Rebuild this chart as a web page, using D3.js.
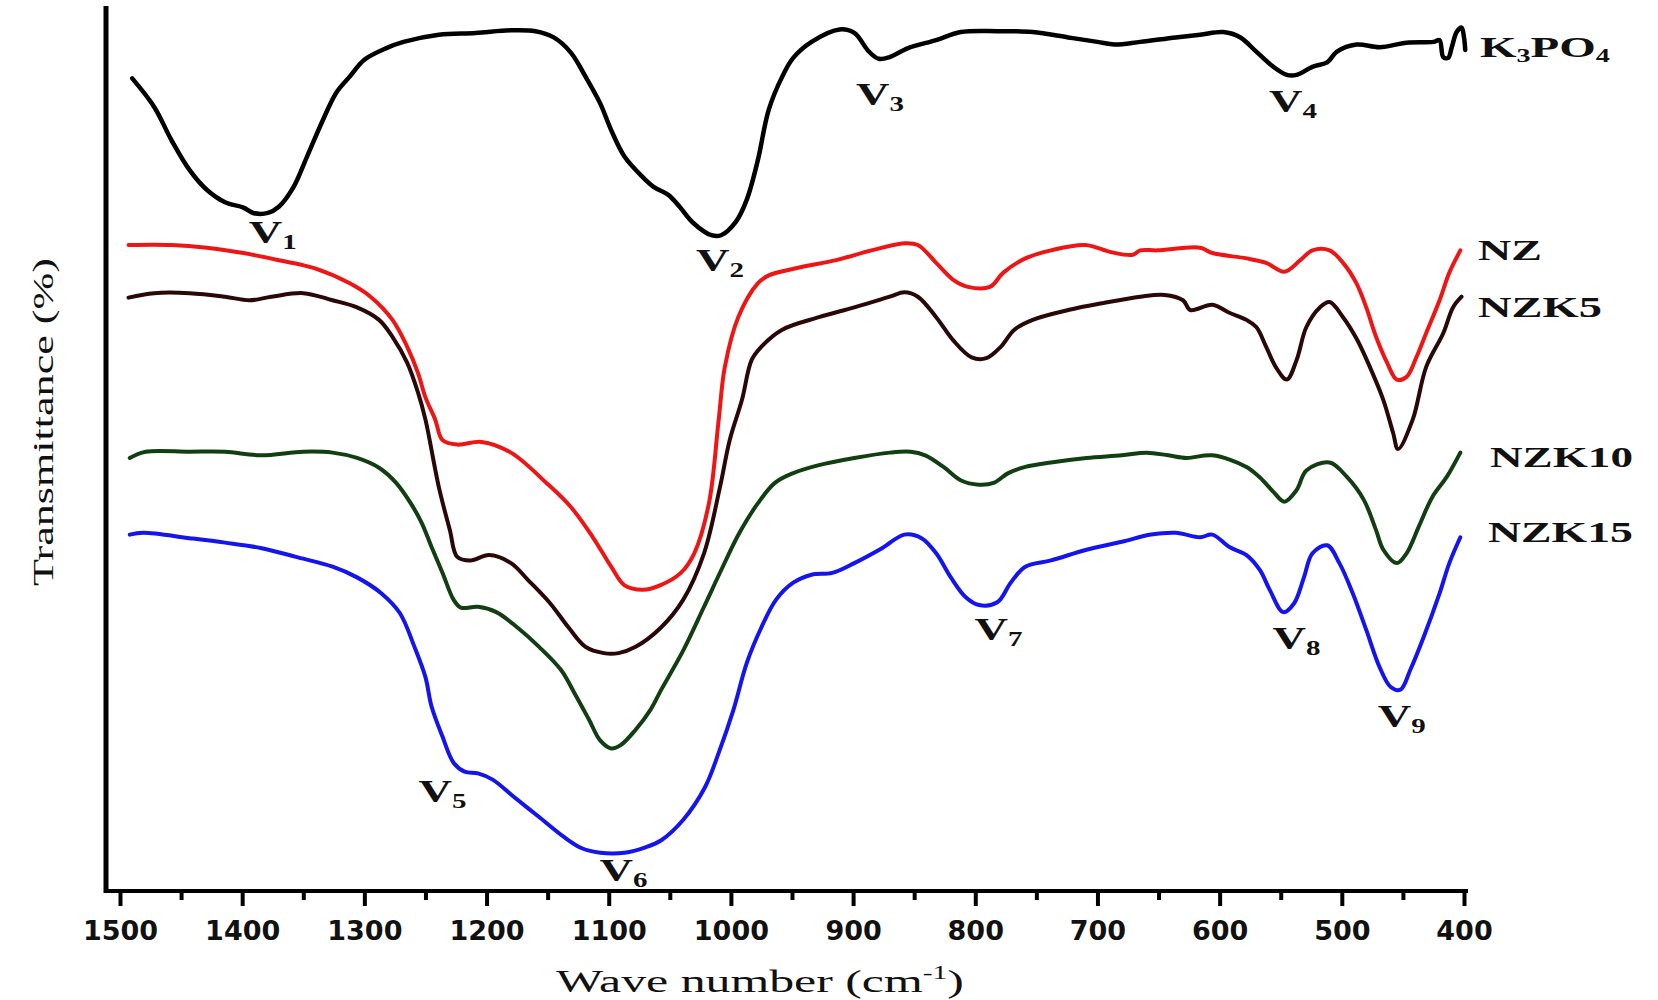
<!DOCTYPE html>
<html>
<head>
<meta charset="utf-8">
<script src="https://cdn.jsdelivr.net/npm/d3@7"></script>
<style>
body { margin:0; background:#fff; }
</style>
</head>
<body>
<div id="chart-area"></div>
<script>

// spectra: [wave number (cm-1), transmittance (arb. %)]
const k3po4 = [[1490,91.2],[1472,88.0],[1458,84.3],[1443,80.9],[1429,78.7],[1414,77.3],[1399,76.7],[1391,76.1],[1379,76.1],[1370,76.8],[1358,79.0],[1347,82.4],[1335,86.2],[1323,89.6],[1312,91.4],[1300,93.3],[1282,94.6],[1268,95.3],[1239,96.1],[1209,96.3],[1180,96.6],[1160,96.5],[1145,95.8],[1131,94.1],[1119,91.4],[1107,88.4],[1098,85.4],[1087,82.4],[1072,80.1],[1063,79.0],[1051,78.1],[1042,76.8],[1031,75.0],[1016,73.6],[1008,73.6],[996,75.1],[987,77.6],[978,82.0],[969,87.7],[958,91.4],[949,93.5],[934,95.3],[911,96.7],[899,96.3],[887,94.2],[879,93.4],[870,93.6],[855,94.6],[832,95.5],[812,96.4],[782,96.5],[753,96.4],[724,95.8],[700,95.3],[686,95.0],[665,95.3],[636,95.8],[616,96.1],[597,96.4],[583,95.8],[570,94.2],[556,92.5],[545,91.6],[537,91.6],[524,92.5],[512,93.0],[504,94.2],[488,95.0],[469,94.7],[447,95.2],[425,95.3],[420,95.5],[417,93.6],[413,93.5],[410,94.7],[406,96.4],[402,96.9],[400,95.8],[399,94.4]]

const nz = [[1493,72.5],[1458,72.5],[1429,72.2],[1399,71.6],[1370,70.8],[1341,69.9],[1312,68.2],[1295,66.7],[1277,64.1],[1265,61.1],[1256,58.1],[1250,55.4],[1242,52.9],[1236,50.6],[1224,50.1],[1204,50.4],[1180,49.2],[1151,45.8],[1131,43.1],[1113,39.7],[1098,36.4],[1087,34.3],[1072,33.8],[1058,34.3],[1041,35.7],[1030,37.9],[1018,43.5],[1010,52.9],[1005,58.8],[994,64.4],[978,68.2],[969,69.1],[943,70.0],[914,70.8],[885,71.9],[858,72.7],[847,72.5],[832,70.5],[818,68.6],[806,67.8],[788,67.8],[777,69.4],[759,71.0],[738,71.9],[710,72.5],[689,71.7],[671,71.4],[665,71.9],[651,71.9],[616,72.2],[606,71.6],[578,71.0],[562,70.5],[547,69.5],[534,70.8],[524,71.9],[510,71.9],[499,70.5],[488,68.2],[480,65.5],[472,62.2],[463,59.3],[455,57.4],[447,57.7],[439,59.9],[431,62.6],[420,66.3],[412,69.4],[403,71.9]]

const nzk5 = [[1493,66.6],[1472,67.1],[1443,67.1],[1414,66.7],[1394,66.3],[1376,66.7],[1350,67.1],[1326,66.3],[1306,65.5],[1288,64.1],[1277,62.2],[1265,59.3],[1256,55.9],[1250,52.9],[1239,45.3],[1230,40.5],[1224,37.5],[1213,37.1],[1198,37.7],[1180,36.8],[1166,34.9],[1148,32.3],[1133,29.6],[1119,27.4],[1104,26.7],[1092,26.7],[1078,27.4],[1057,29.6],[1039,32.7],[1022,37.9],[1009,45.3],[1001,50.6],[991,55.1],[983,59.6],[975,61.1],[958,63.0],[928,64.4],[899,65.5],[870,66.7],[858,67.2],[847,66.7],[832,64.4],[818,61.8],[803,59.9],[791,59.8],[779,61.1],[768,63.0],[753,64.1],[724,65.2],[695,66.0],[665,66.7],[645,66.9],[630,66.3],[624,65.2],[606,65.8],[592,64.9],[578,64.1],[570,63.3],[562,61.1],[554,58.8],[545,57.4],[537,59.6],[529,63.3],[518,65.5],[510,66.1],[499,64.4],[488,62.0],[477,58.8],[466,55.1],[458,51.4],[454,49.6],[442,52.9],[431,58.8],[417,62.6],[409,65.5],[402,66.7]]

const nzk10 = [[1492,48.6],[1479,49.3],[1443,49.3],[1414,49.3],[1385,48.9],[1350,49.3],[1326,49.2],[1306,48.6],[1288,47.5],[1274,45.8],[1262,43.5],[1253,41.3],[1245,38.6],[1236,35.7],[1227,32.7],[1221,31.8],[1207,31.9],[1192,31.3],[1175,29.6],[1157,27.4],[1139,24.8],[1128,22.2],[1116,19.2],[1107,16.9],[1098,16.0],[1090,16.4],[1078,18.1],[1066,20.3],[1057,22.6],[1039,27.0],[1022,31.9],[1008,36.0],[993,40.2],[978,43.5],[964,45.8],[949,46.9],[928,47.8],[899,48.6],[870,49.2],[853,49.3],[841,48.9],[826,47.6],[812,46.1],[797,45.6],[785,45.8],[773,46.9],[759,47.6],[738,48.1],[709,48.6],[680,48.9],[660,49.2],[642,48.9],[627,48.6],[606,48.9],[578,47.6],[567,46.4],[556,44.8],[547,43.7],[537,45.0],[529,47.2],[510,48.1],[496,46.5],[482,43.9],[472,40.5],[466,38.3],[455,36.8],[447,37.9],[437,40.9],[426,44.2],[414,46.5],[403,49.2]]

const nzk15 = [[1492,40.0],[1481,40.2],[1443,39.6],[1414,39.1],[1385,38.5],[1356,37.5],[1326,36.4],[1306,35.2],[1286,33.4],[1271,31.2],[1259,27.4],[1250,24.0],[1245,20.7],[1236,17.3],[1227,14.4],[1218,13.4],[1207,13.2],[1195,12.5],[1178,10.6],[1157,8.3],[1137,6.1],[1122,4.8],[1107,4.3],[1087,4.3],[1070,4.9],[1057,5.7],[1039,8.0],[1021,11.7],[1010,15.5],[998,20.3],[987,25.6],[975,29.6],[963,32.7],[949,34.6],[934,35.5],[917,35.7],[899,36.8],[876,38.5],[858,40.0],[844,39.6],[832,37.9],[820,35.2],[808,33.0],[797,32.1],[782,32.4],[771,34.6],[759,36.4],[738,37.1],[709,38.3],[680,39.2],[656,40.0],[636,40.2],[616,39.7],[606,40.0],[592,38.6],[578,37.7],[567,36.0],[559,33.8],[548,31.3],[539,32.3],[531,35.2],[524,37.9],[512,38.8],[502,36.8],[491,33.4],[480,29.3],[469,25.1],[460,22.9],[452,22.6],[444,24.8],[433,28.5],[420,33.4],[412,36.8],[403,39.7]]

const series = [k3po4, nz, nzk5, nzk10, nzk15]
const seriesNames = ['K_3PO_4', 'NZ', 'NZK5', 'NZK10', 'NZK15']
const seriesColors = ['#000000', '#ee1515', '#2a0808', '#123f12', '#1414ee']
const nameT = [94.7, 71.9, 65.6, 48.7, 40.3]

// band labels and where they sit
const peakNames = ['V_1','V_2','V_3','V_4','V_5','V_6','V_7','V_8','V_9']
const peakWn = [1375, 1009, 878, 540, 1236, 1088, 781, 537, 451]
const peakT = [73.6, 70.5, 89.1, 88.3, 10.9, 2.0, 29.1, 28.1, 19.3]

const majorTicks = [1500,1400,1300,1200,1100,1000,900,800,700,600,500,400]
const minorTicks = [1450,1350,1250,1150,1050,950,850,750,650,550,450]

const WIDTH = 1658
const HEIGHT = 1000
const SERIF = '"Liberation Serif","Times New Roman",serif'

const svg = d3.select('#chart-area')
.append('svg')
.attr('width',WIDTH)
.attr('height',HEIGHT)
.style('background','#fff')

const x = d3.scaleLinear()
.domain([1500,400])
.range([120,1464])

const y = d3.scaleLinear()
.domain([0,100])
.range([891,0])

// write "A_1B" style strings with subscripts
function richText(textSel, str, subSize, subDy) {
	const parts = str.split(/_(\d+)/)
	let shift = 0
	parts.forEach((p,j) => {
		if(!p) return
		const isSub = j % 2 === 1
		const target = isSub ? subDy : 0
		const ts = textSel.append('tspan').attr('dy', target - shift).text(p)
		if(isSub) ts.attr('font-size', subSize)
		shift = target
	})
}

// the source figure is stretched sideways, so texts are scaled to its widths
function stretch(textSel, targetW) {
	const w = textSel.node().getBBox().width
	textSel.attr('transform', `scale(${targetW / w},1)`)
}

// curves
const line = d3.line()
.x(d => x(d[0]))
.y(d => y(d[1]))
.curve(d3.curveCatmullRom.alpha(0.5))

series.forEach((s,i) => {
	svg.append('path')
	.datum(s)
	.attr('d', line)
	.attr('fill','none')
	.attr('stroke', seriesColors[i])
	.attr('stroke-width', i === 0 ? 4.5 : 4)
	.attr('stroke-linejoin','round')
	.attr('stroke-linecap','round')
})

// axes
const xAxis = svg.append('g')
.attr('transform',`translate(0,${y(0)})`)
.call(d3.axisBottom(x).tickValues(majorTicks).tickFormat(d3.format('d')).tickSize(15).tickPadding(15))

xAxis.select('.domain').remove()
xAxis.selectAll('line').attr('stroke','#000').attr('stroke-width',4)
xAxis.selectAll('text')
.attr('font-family','"DejaVu Sans",Verdana,sans-serif')
.attr('font-weight','bold')
.attr('font-size',27)
.attr('fill','#111')

const xMinor = svg.append('g')
.attr('transform',`translate(0,${y(0)})`)
.call(d3.axisBottom(x).tickValues(minorTicks).tickFormat('').tickSize(9))
xMinor.select('.domain').remove()
xMinor.selectAll('line').attr('stroke','#000').attr('stroke-width',4)

svg.append('line')
.attr('x1',104).attr('x2',x(400)+4)
.attr('y1',y(0)).attr('y2',y(0))
.attr('stroke','#000').attr('stroke-width',4)

const yAxis = svg.append('g')
.attr('transform','translate(106,0)')
.call(d3.axisLeft(y).tickValues([]).tickSizeOuter(0))
yAxis.select('.domain')
.attr('d',`M0,${y(0)+2}V6`)
.attr('stroke','#000').attr('stroke-width',5)

// axis titles
const xTitle = svg.append('g').attr('transform','translate(760,992)')
const xt = xTitle.append('text')
.attr('text-anchor','middle')
.attr('font-family',SERIF)
.attr('font-size',32)
.attr('fill','#111')
xt.append('tspan').text('Wave number (cm')
xt.append('tspan').attr('dy',-13).attr('font-size',19).text('-1')
xt.append('tspan').attr('dy',13).text(')')
stretch(xt, 408)

const yTitle = svg.append('g').attr('transform','translate(42,422) rotate(-90)')
const yt = yTitle.append('text')
.attr('text-anchor','middle')
.attr('dy','0.35em')
.attr('font-family',SERIF)
.attr('font-size',30)
.attr('fill','#111')
.text('Transmittance (%)')
stretch(yt, 328)

// series names at the right end
const nameDx = [16, 14, 14, 26, 24]
const nameW = [130, 64, 124, 143, 145]
seriesNames.forEach((name,i) => {
	const g = svg.append('g')
	.attr('transform',`translate(${x(400)+nameDx[i]},${y(nameT[i])+10})`)
	const t = g.append('text')
	.attr('font-family',SERIF)
	.attr('font-weight','bold')
	.attr('font-size',30)
	.attr('fill','#111')
	richText(t, name, 18, 5)
	stretch(t, nameW[i])
})

// band labels
peakNames.forEach((name,i) => {
	const g = svg.append('g')
	.attr('transform',`translate(${x(peakWn[i])},${y(peakT[i])+8})`)
	const t = g.append('text')
	.attr('text-anchor','middle')
	.attr('font-family',SERIF)
	.attr('font-weight','bold')
	.attr('font-size',32)
	.attr('fill','#111')
	richText(t, name, 20, 6)
	stretch(t, 48)
})
</script>
</body>
</html>
